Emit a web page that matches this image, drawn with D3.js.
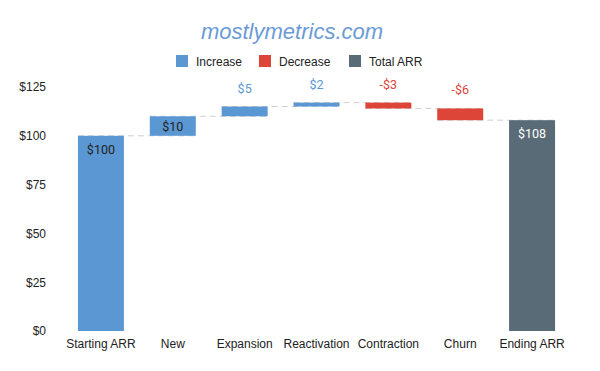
<!DOCTYPE html>
<html>
<head>
<meta charset="utf-8">
<script src="https://cdn.jsdelivr.net/npm/d3@7"></script>
<style>
  body { margin: 0; background: #fff; }
  svg { display: block; }
</style>
</head>
<body>
<svg id="chart"></svg>
<script>
const categories = ["Starting ARR", "New", "Expansion", "Reactivation", "Contraction", "Churn", "Ending ARR"];
const changes = [100, 10, 5, 2, -3, -6, 108];
const kinds = ["start", "increase", "increase", "increase", "decrease", "decrease", "total"];
const yTicks = [0, 25, 50, 75, 100, 125];
const legendLabels = ["Increase", "Decrease", "Total ARR"];

const COLORS = { start: "#5b97d2", increase: "#5b97d2", decrease: "#dc4538", total: "#596b76" };
const legendColors = [COLORS.increase, COLORS.decrease, COLORS.total];

const WIDTH = 600, HEIGHT = 371;
const MARGIN = { top: 87, right: 32, bottom: 40, left: 65 };
const INNER_WIDTH = WIDTH - MARGIN.left - MARGIN.right;
const INNER_HEIGHT = HEIGHT - MARGIN.top - MARGIN.bottom;

// running totals -> start/end of each bar
let run = 0;
const data = categories.map((c, i) => {
  let start, end;
  if (kinds[i] === "start" || kinds[i] === "total") { start = 0; end = changes[i]; run = changes[i]; }
  else { start = run; end = run + changes[i]; run = end; }
  return { cat: c, value: changes[i], kind: kinds[i], start, end };
});

const SVG = d3.select("#chart").attr("width", WIDTH).attr("height", HEIGHT);

SVG.append("text")
  .attr("x", 292).attr("y", 39)
  .attr("text-anchor", "middle")
  .attr("font-family", "Liberation Sans, Arial, sans-serif")
  .attr("font-style", "italic")
  .attr("font-size", "22px")
  .attr("fill", "#6b9bd6")
  .text("mostlymetrics.com");

// legend
const legend = SVG.append("g").attr("transform", "translate(176,61)");
const legendX = [0, 83, 173];
legendLabels.forEach((l, i) => {
  const g = legend.append("g").attr("transform", `translate(${legendX[i]},0)`);
  g.append("rect").attr("x", 0).attr("y", -6).attr("width", 12).attr("height", 12).attr("fill", legendColors[i]);
  g.append("text").attr("x", 20).attr("y", 4.5)
    .attr("font-family", "Liberation Sans, Arial, sans-serif")
    .attr("font-size", "12px").attr("fill", "#222").text(l);
});

const plot = SVG.append("g").attr("transform", `translate(${MARGIN.left},${MARGIN.top})`);

const yScale = d3.scaleLinear().domain([0, 125]).range([INNER_HEIGHT, 0]);
const xScale = d3.scaleBand().domain(categories).range([0, INNER_WIDTH]).paddingInner(0.36).paddingOuter(0.18);

const yAxis = d3.axisLeft(yScale).tickValues(yTicks).tickSize(0).tickPadding(19).tickFormat(d => "$" + d);
const yG = plot.append("g").call(yAxis);
yG.select(".domain").remove();
yG.selectAll("text").attr("font-family", "Liberation Sans, Arial, sans-serif").attr("font-size", "12px").attr("fill", "#222");

const xAxis = d3.axisBottom(xScale).tickSize(0).tickPadding(8);
const xG = plot.append("g").attr("transform", `translate(0,${INNER_HEIGHT})`).call(xAxis);
xG.select(".domain").remove();
xG.selectAll("text").attr("font-family", "Liberation Sans, Arial, sans-serif").attr("font-size", "12px").attr("fill", "#222");

// connectors (under bars)
plot.selectAll(".conn")
  .data(data.slice(0, -1))
  .enter().append("line")
  .attr("x1", (d) => xScale(d.cat))
  .attr("x2", (d, i) => xScale(categories[i + 1]) + xScale.bandwidth())
  .attr("y1", (d) => yScale(d.end))
  .attr("y2", (d) => yScale(d.end))
  .attr("stroke", "#cfcfcf").attr("stroke-width", 1).attr("stroke-dasharray", "6,4");

plot.selectAll(".bar")
  .data(data)
  .enter().append("rect")
  .attr("x", (d) => xScale(d.cat))
  .attr("width", xScale.bandwidth())
  .attr("y", (d) => yScale(Math.max(d.start, d.end)))
  .attr("height", (d) => Math.abs(yScale(d.start) - yScale(d.end)))
  .attr("fill", (d) => COLORS[d.kind]);

// labels
const barH = (d) => Math.abs(yScale(d.start) - yScale(d.end));
plot.selectAll(".lbl")
  .data(data)
  .enter().append("text")
  .attr("x", (d) => xScale(d.cat) + xScale.bandwidth() / 2)
  .attr("y", (d) => {
    const top = yScale(Math.max(d.start, d.end));
    const h = barH(d);
    return h >= 16 ? Math.min(top + 18, top + h / 2 + 4.5) : top - 14;
  })
  .attr("text-anchor", "middle")
  .attr("font-family", "Roboto, sans-serif")
  .attr("font-size", "12.5px")
  .attr("fill", (d) => {
    if (barH(d) >= 16) return d.kind === "total" ? "#fff" : "#222";
    return COLORS[d.kind];
  })
  .text((d) => (d.value < 0 ? "-$" + Math.abs(d.value) : "$" + d.value));
</script>
</body>
</html>
